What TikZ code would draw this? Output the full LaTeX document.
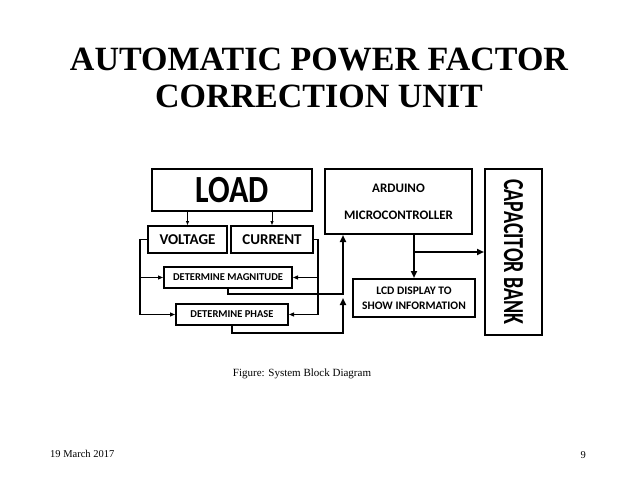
\documentclass[tikz,border=0pt]{standalone}
\usepackage{fontspec}
\setmainfont{Liberation Serif}
\newfontfamily\blockfont{Carlito}
\usepackage{tikz}
\usetikzlibrary{arrows.meta, positioning}

\begin{document}
\begin{tikzpicture}[
        x=1pt, y=-1pt,
        block/.style={
            draw=black,
            line width=2pt,
            inner sep=0pt,
            align=center,
            font=\blockfont\bfseries
        },
        feed/.style={line width=1.2pt, draw=black, -{Triangle[length=5pt,width=4pt]}},
        sense/.style={line width=0.8pt, draw=black, -{Triangle[length=4pt,width=3pt]}},
        main/.style={line width=2.2pt, draw=black, -{Triangle[length=7pt,width=6pt]}}
    ]
        \useasboundingbox (0,0) rectangle (638,479);

        % title and footer
        \node[anchor=north, inner sep=0pt, align=center,
              font=\fontsize{34}{37}\selectfont\bfseries] (title) at (319,48)
              {AUTOMATIC POWER FACTOR\\CORRECTION UNIT};

        % blocks
        \node[block, minimum width=160, minimum height=42, font=\blockfont\bfseries\fontsize{32}{32}\selectfont] (load) at (232,190) {\scalebox{1}[1.2]{LOAD}};
        \node[block, minimum width=79, minimum height=27, font=\blockfont\bfseries\fontsize{15}{15}\selectfont] (volt) at (187.5,239.5) {VOLTAGE};
        \node[block, minimum width=82, minimum height=27, font=\blockfont\bfseries\fontsize{15}{15}\selectfont] (curr) at (272,239.5) {CURRENT};
        \node[block, minimum width=128, minimum height=21, font=\blockfont\bfseries\fontsize{10.5}{11}\selectfont] (mag) at (228,277.5) {DETERMINE MAGNITUDE};
        \node[block, minimum width=112, minimum height=21, font=\blockfont\bfseries\fontsize{10.5}{11}\selectfont] (phase) at (232,314.5) {DETERMINE PHASE};
        \node[block, minimum width=147, minimum height=65, font=\blockfont\bfseries\fontsize{13}{27}\selectfont] (ard) at (398.5,201.5) {ARDUINO\\MICROCONTROLLER};
        \node[block, minimum width=122, minimum height=38, font=\blockfont\bfseries\fontsize{11.5}{15}\selectfont] (lcd) at (414,298) {LCD DISPLAY TO\\SHOW INFORMATION};
        \node[block, minimum width=57, minimum height=166] (cap) at (513.5,252) {};
        \node[rotate=-90, inner sep=0pt, font=\blockfont\bfseries\fontsize{20}{20}\selectfont] (caplabel) at (cap.center) {\scalebox{1}[1.45]{CAPACITOR BANK}};

        % bus points
        \coordinate (vbus) at (140,239.5);
        \coordinate (cbus) at (318,239.5);
        \coordinate (magin) at (343,294);
        \coordinate (phin) at (343,333);
        \coordinate (phend) at (343,298);

        % connectors
        \draw[sense] (volt.north |- load.south) -- (volt.north);
        \draw[sense] (curr.north |- load.south) -- (curr.north);
        \draw[feed] (volt.west) -- (vbus) |- (mag.west);
        \draw[feed] (volt.west) -- (vbus) |- (phase.west);
        \draw[feed] (curr.east) -- (cbus) |- (mag.east);
        \draw[feed] (curr.east) -- (cbus) |- (phase.east);
        \draw[main] (mag.south) |- (magin) -- (magin |- ard.south);
        \draw[main] (phase.south) |- (phin) -- (phend);
        \draw[main] (lcd.north |- ard.south) -- (lcd.north);
        \draw[main] (lcd.north |- cap.west) -- (cap.west);

        \node[anchor=base, inner sep=0pt, font=\fontsize{11}{13}\selectfont] (caption) at (302,376) {Figure: System Block Diagram};
        \node[anchor=base west, inner sep=0pt, font=\fontsize{10.5}{12}\selectfont] (date) at (50,457) {19 March 2017};
        \node[anchor=base east, inner sep=0pt, font=\fontsize{10.5}{12}\selectfont] (page) at (586,458) {9};
    \end{tikzpicture}
\end{document}
